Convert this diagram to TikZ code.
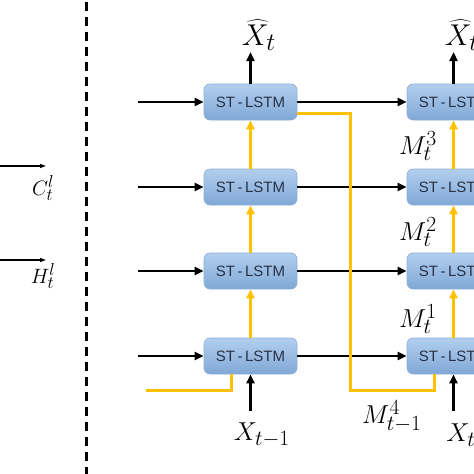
\documentclass[tikz,border=0pt]{standalone}
\usepackage{fontspec}
\setsansfont{Liberation Sans}
\usetikzlibrary{arrows.meta}
\DeclareMathSizes{20.74}{20.74}{17.28}{14.4}
\definecolor{gold}{RGB}{255,192,0}
\definecolor{boxedge}{RGB}{140,175,215}
\definecolor{boxtop}{RGB}{178,206,238}
\definecolor{boxbot}{RGB}{128,168,214}
\begin{document}
\begin{tikzpicture}[x=1pt,y=-1pt,
  box/.style={draw=boxedge, line width=0.6pt, rounded corners=6pt,
    minimum width=93pt, minimum height=36pt, inner sep=0pt,
    top color=boxtop, bottom color=boxbot,
    font=\sffamily\fontsize{15}{15}\selectfont, text={rgb,255:red,40;green,50;blue,70}},
  blk/.style={line width=2.4pt, -{Triangle[length=9pt,width=8pt]}},
  yel/.style={draw=gold, line width=3pt},
  yelarr/.style={yel, -{Triangle[length=9pt,width=8pt]}},
  thin/.style={line width=1.2pt, -{Triangle[length=6pt,width=4pt]}},
  big/.style={font=\huge, inner sep=0pt, scale=1.45},
  mid/.style={font=\huge, inner sep=0pt, scale=1.25},
  small/.style={font=\huge, inner sep=0pt, scale=1.0}]
\useasboundingbox (0,0) rectangle (474,474);
\clip (0,0) rectangle (474,474);
\fill[white] (0,0) rectangle (474,474);
% dashed divider
\coordinate (d1) at (86,2);
\coordinate (d2) at (86,474);
\draw[line width=3pt, dash pattern=on 9pt off 6pt] (d1) -- (d2);
% left legend
\coordinate (c0) at (-5,166);
\coordinate (c1) at (46,166);
\coordinate (h0) at (-5,260);
\coordinate (h1) at (46,260);
\draw[thin] (c0) -- (c1);
\draw[thin] (h0) -- (h1);
\node[small] (lc) at (43,188) {$C_t^l$};
\node[small] (lh) at (43,276) {$H_t^l$};
% boxes
\foreach \r/\y in {1/102,2/187,3/271,4/356}{
  \node[box] (a\r) at (250.5,\y) {ST\,-\,LSTM};
  \node[box] (b\r) at (453.5,\y) {ST\,-\,LSTM};
  \coordinate (in\r) at (138,\y);
  \draw[blk] (in\r) -- (a\r.west);
  \draw[blk] (a\r.east) -- (b\r.west);
}
% yellow vertical arrows
\draw[yelarr] (a4.north) -- (a3.south);
\draw[yelarr] (a3.north) -- (a2.south);
\draw[yelarr] (a2.north) -- (a1.south);
\draw[yelarr] (b4.north) -- (b3.south);
\draw[yelarr] (b3.north) -- (b2.south);
\draw[yelarr] (b2.north) -- (b1.south);
% outputs
\coordinate (o1) at (250.5,52);
\coordinate (o2) at (453.5,52);
\draw[blk] (a1.north) -- (o1);
\draw[blk] (b1.north) -- (o2);
\node[big] (xh1) at (259,35) {$\widehat{X}_t$};
\node[big] (xh2) at (462,35) {$\widehat{X}_t$};
% inputs
\coordinate (i1) at (250.5,411);
\coordinate (i2) at (453.5,411);
\draw[blk] (i1) -- (a4.south);
\draw[blk] (i2) -- (b4.south);
\node[mid] (x1) at (262,435) {$X_{t-1}$};
\node[mid] (x2) at (461,435) {$X_t$};
% yellow memory path
\coordinate (p0) at ([yshift=-11pt]a1.east);
\coordinate (p1) at (350,113);
\coordinate (p2) at (350,390);
\coordinate (p3) at (434,390);
\draw[yel] (p0) -- (p1) -- (p2) -- (p3) -- (p3 |- b4.south);
\coordinate (q0) at (146,390);
\coordinate (q1) at (231,390);
\draw[yel] (q0) -- (q1) -- (q1 |- a4.south);
% M labels
\node[mid] (m3) at (418,146) {$M_t^3$};
\node[mid] (m2) at (418,232) {$M_t^2$};
\node[mid] (m1) at (418,319) {$M_t^1$};
\node[mid] (m4) at (392,416) {$M_{t-1}^4$};
\end{tikzpicture}
\end{document}
